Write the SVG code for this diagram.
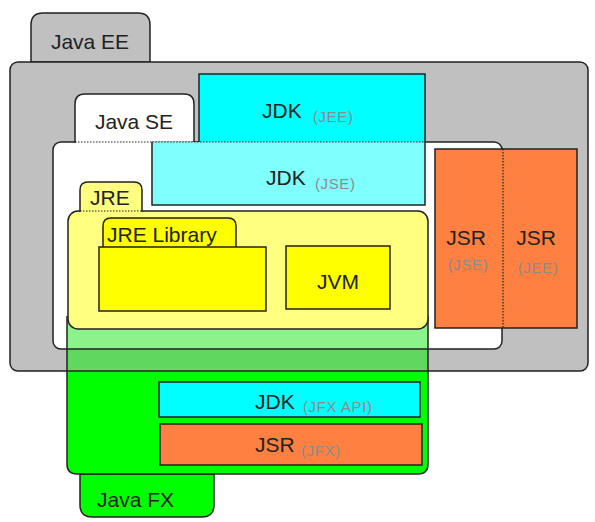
<svg xmlns="http://www.w3.org/2000/svg" width="595" height="522" viewBox="0 0 595 522">
<defs>
<style>
.ln{stroke:#222;stroke-width:1.5;fill:none}
.dot{stroke:#222;stroke-width:1.2;stroke-dasharray:1.5 1.5;fill:none}
.t{font-family:"Liberation Sans",Arial,sans-serif;font-size:21px;fill:#222}
.s{font-family:"Liberation Sans",Arial,sans-serif;font-size:15px;fill:#8c8c8c;letter-spacing:0.6px}
.m{text-anchor:middle}
</style>
</defs>
<rect width="595" height="522" fill="#fff"/>
<g id="java-ee">
<path d="M31,62 V25 Q31,13 43,13 H138 Q150,13 150,25 V62 Z" class="ln" style="fill:#C0C0C0"/>
<rect x="10" y="62" width="578" height="309" rx="8" class="ln" style="fill:#C0C0C0"/>
<text class="t m" x="90" y="49">Java EE</text>
</g>
<g id="java-se">
<rect x="53" y="142" width="449" height="207" rx="8" class="ln" style="fill:#fff"/>
<path d="M75,143 V104 Q75,94 85,94 H184 Q194,94 194,104 V143" class="ln" style="fill:#fff"/>
<rect x="76" y="140" width="117" height="3" fill="#fff"/>
<line x1="75" y1="142" x2="194" y2="142" class="dot"/>
<text class="t m" x="134" y="129">Java SE</text>
</g>
<g id="jdk-jee">
<rect x="199" y="74" width="226" height="68" fill="#00FFFF"/>
<path d="M199,142 V74 H425 V142" class="ln"/>
<text class="t" x="262" y="118">JDK</text>
<text class="s" x="313" y="122">(JEE)</text>
</g>
<g id="jdk-jse">
<rect x="152" y="142" width="273" height="63" fill="#80FFFF"/>
<path d="M152,142 V205 H425 V142" class="ln"/>
<line x1="152" y1="142" x2="425" y2="142" class="dot"/>
<text class="t" x="266" y="185">JDK</text>
<text class="s" x="315" y="189">(JSE)</text>
</g>
<g id="jsr-jse-jee">
<rect x="435" y="149" width="142" height="179" class="ln" style="fill:#FF8040"/>
<line x1="503" y1="149" x2="503" y2="328" class="dot"/>
<text class="t m" x="466" y="245">JSR</text>
<text class="s m" x="468" y="270">(JSE)</text>
<text class="t m" x="536" y="245">JSR</text>
<text class="s m" x="538" y="273">(JEE)</text>
</g>
<g id="java-fx">
<path d="M80,474 V505 Q80,517 92,517 H202 Q214,517 214,505 V474 Z" class="ln" style="fill:#00FF00"/>
<rect x="67" y="316" width="361" height="33" fill="#8CF28C"/>
<rect x="67" y="349" width="361" height="22" fill="#60D860"/>
<path d="M67,371 V464 Q67,474 77,474 H418 Q428,474 428,464 V371 Z" fill="#00FF00"/>
<path d="M67,316 V464 Q67,474 77,474 H418 Q428,474 428,464 V316" class="ln"/>
<line x1="67" y1="349" x2="428" y2="349" class="ln"/>
<line x1="67" y1="371" x2="428" y2="371" class="ln"/>
<text class="t" x="97" y="507">Java FX</text>
</g>
<g id="jdk-jfx">
<rect x="159" y="382" width="261" height="35" class="ln" style="fill:#00FFFF"/>
<text class="t" x="255" y="409">JDK</text>
<text class="s" x="303" y="412">(JFX API)</text>
</g>
<g id="jsr-jfx">
<rect x="160" y="424" width="262" height="41" class="ln" style="fill:#FF8040"/>
<text class="t" x="255" y="452">JSR</text>
<text class="s" x="301" y="456">(JFX)</text>
</g>
<g id="jre">
<rect x="68" y="211" width="360" height="118" rx="10" class="ln" style="fill:#FFFF80"/>
<path d="M80,212 V190 Q80,182 88,182 H134 Q142,182 142,190 V212" class="ln" style="fill:#FFFF80"/>
<rect x="81" y="209" width="60" height="3" fill="#FFFF80"/>
<line x1="80" y1="211" x2="142" y2="211" class="dot"/>
<text class="t" x="90" y="205">JRE</text>
</g>
<g id="jre-library">
<path d="M103,247 V226 Q103,218 111,218 H228 Q236,218 236,226 V247" class="ln" style="fill:#FFFF00"/>
<rect x="99" y="247" width="167" height="64" class="ln" style="fill:#FFFF00"/>
<text class="t" x="107" y="242">JRE Library</text>
</g>
<g id="jvm">
<rect x="286" y="246" width="104" height="63" class="ln" style="fill:#FFFF00"/>
<text class="t m" x="338" y="289">JVM</text>
</g>
<g id="connectors"></g>
</svg>
